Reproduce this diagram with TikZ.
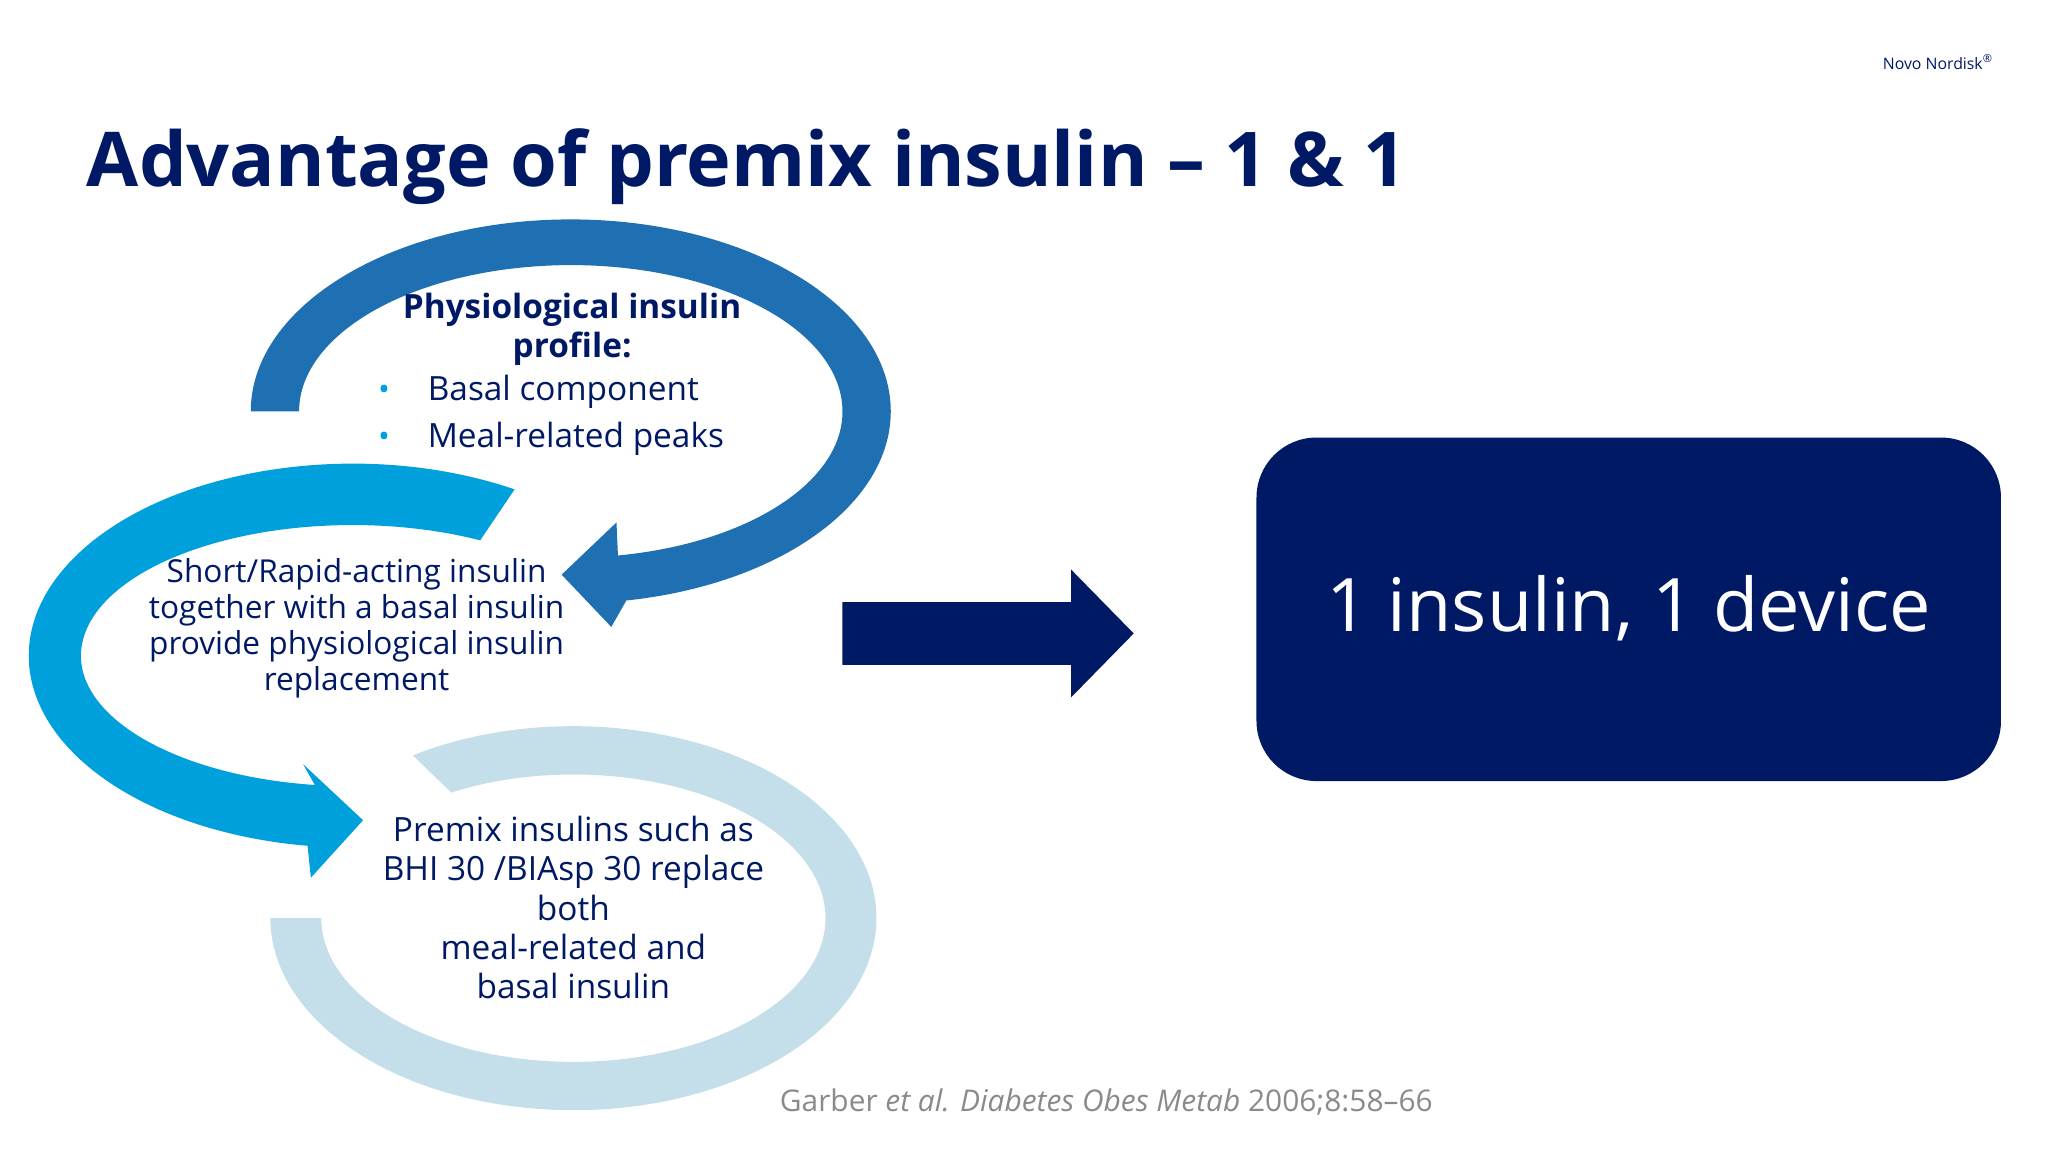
\documentclass[tikz,border=0pt]{standalone}
\usepackage{fontspec}
\setmainfont{Open Sans}
\usetikzlibrary{calc}
\definecolor{navy}{HTML}{001965}
\definecolor{darkb}{HTML}{1F70B3}
\definecolor{cyanb}{HTML}{00A0DC}
\definecolor{lightb}{HTML}{C5DFEA}
\definecolor{grayt}{HTML}{8A8A8A}
\tikzset{body/.style={text=navy,font=\fontsize{9.5}{11}\selectfont,align=center,inner sep=0}}
\begin{document}
\begin{tikzpicture}[x=0.01306cm,y=0.01306cm]
\useasboundingbox (0,0) rectangle (1568,882);
% bottom light ring
\fill[lightb] (439,179) ++(122:232 and 147) arc[start angle=122,end angle=-180,x radius=232,y radius=147]
  -- ++(39,0) arc[start angle=-180,end angle=119,x radius=193,y radius=110] -- cycle;
% cyan ring
\fill[cyanb] (270,380) ++(60:248 and 147) arc[start angle=60,end angle=262,x radius=248,y radius=147]
  -- (238,210) -- (278,254) -- (232,297) -- ($(270,380)+(262:208 and 100)$) arc[start angle=262,end angle=62,x radius=208,y radius=100] -- cycle;
% dark ring
\fill[darkb] (437,567) ++(180:245 and 147) arc[start angle=180,end angle=-80,x radius=245,y radius=147]
  -- (468,402) -- (430,442) -- (472,482) -- ($(437,567)+(-80:208 and 112)$) arc[start angle=-80,end angle=180,x radius=208,y radius=112] -- cycle;
% title
\node[anchor=base west,text=navy,font=\fontsize{21.5}{24}\selectfont\bfseries,inner sep=0] (title) at (66,739) {Advantage of premix insulin – 1 \& 1};
\node[anchor=base east,text=navy,font=\fontsize{4.5}{5}\selectfont,inner sep=0] (logo) at (1527,829) {Novo Nordisk\textsuperscript{®}};
% texts
\node[body,font=\fontsize{9.5}{11}\selectfont\bfseries] (t1) at (438,630) {Physiological insulin\\profile:};
\node[body,anchor=base west] (b1) at (327,575) {Basal component};
\node[body,anchor=base west] (b2) at (327,539) {Meal-related peaks};
\node[text=cyanb,font=\small,inner sep=0] (d1) at (294,581) {•};
\node[text=cyanb,font=\small,inner sep=0] (d2) at (294,545) {•};
\node[body,font=\fontsize{9}{10.3}\selectfont] (t2) at (273,401) {Short/Rapid-acting insulin\\together with a basal insulin\\provide physiological insulin\\replacement};
\node[body,font=\fontsize{9.5}{11.2}\selectfont] (t3) at (439,187) {Premix insulins such as\\BHI 30 /BIAsp 30 replace\\both\\meal-related and\\basal insulin};
% arrow
\fill[navy] (645,373) -- (820,373) -- (820,348) -- (868,397) -- (820,446) -- (820,421) -- (645,421) -- cycle;
% box
\node[fill=navy,rounded corners=0.6cm,minimum width=570*0.01306cm,minimum height=263*0.01306cm,inner sep=0] (box) at (1247,415.5) {};
\node[text=white,font=\fontsize{21}{24}\selectfont,inner sep=0] (bt) at (1247,416) {1 insulin, 1 device};
\node[text=grayt,font=\fontsize{8.5}{10}\selectfont,inner sep=0] (cite) at (847,38) {Garber \textit{et al. Diabetes Obes Metab} 2006;8:58–66};
\end{tikzpicture}
\end{document}
